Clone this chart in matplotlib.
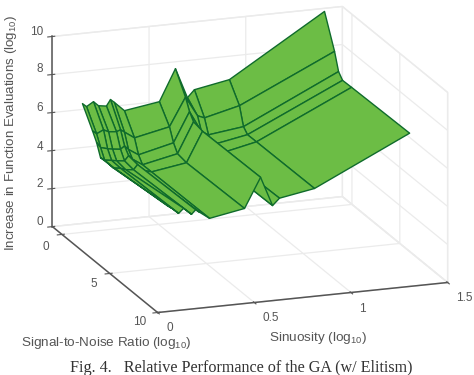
import numpy as np
import matplotlib
matplotlib.use('Agg')
import matplotlib.pyplot as plt

plt.rcParams['font.family'] = ['Liberation Sans', 'DejaVu Sans']
plt.rcParams['mathtext.fontset'] = 'custom'
plt.rcParams['mathtext.rm'] = 'Liberation Sans'
plt.rcParams['mathtext.default'] = 'rm'
plt.rcParams['grid.color'] = '#ebebeb'
plt.rcParams['grid.linewidth'] = 0.9

sinuosity = [0.106, 0.127, 0.163, 0.189, 0.230, 0.251, 0.271, 0.323, 0.504, 0.587, 0.649, 0.685, 0.866, 1.358]
snr = [0, 1.05, 1.47, 1.89, 2.83, 8.9]

z_snr0 = [6.77, 6.59, 6.81, 6.57, 6.51, 6.83, 6.66, 6.17, 6.45, 8.10, 6.51, 6.89, 7.23, 10.3]
z_snr1 = [5.77, 5.59, 5.76, 5.63, 5.59, 5.67, 5.53, 5.17, 5.56, 7.03, 5.99, 5.84, 6.29, 8.63]
z_snr2 = [5.34, 5.04, 4.94, 4.89, 4.84, 4.99, 4.79, 4.45, 4.89, 6.44, 5.32, 5.12, 5.36, 7.74]
z_snr3 = [4.70, 4.55, 4.50, 4.45, 4.40, 4.65, 4.45, 4.10, 4.49, 6.08, 4.65, 4.77, 5.11, 7.45]
z_snr4 = [4.72, 4.52, 4.47, 4.37, 4.32, 4.57, 4.27, 4.11, 4.40, 5.97, 4.40, 4.72, 5.12, 7.47]
z_snr5 = [5.04, 4.90, 4.59, 4.83, 4.47, 4.69, 4.54, 4.16, 4.49, 6.04, 4.49, 4.84, 5.16, 7.55]

x_ticks = [0, 0.5, 1, 1.5]
y_ticks = [0, 5, 10]
z_ticks = [0, 2, 4, 6, 8, 10]
x_labels = ['0', '0.5', '1', '1.5']
y_labels = ['0', '5', '10']
z_labels = ['0', '2', '4', '6', '8', '10']

text_col = '#555555'
W, H = 474, 375

fig = plt.figure(figsize=(W / 100, H / 100), dpi=100)
ax = fig.add_subplot(111, projection='3d', proj_type='ortho')

# square axes, sized so the box lands where it is in the picture
S = 468.2
ax.set_position([(250 - 0.5135 * S) / W, (215.5 - 0.5135 * S) / H, S / W, S / H])
ax.patch.set_alpha(0)
ax.set_box_aspect((307.8, 313.6, 198.7))
ax.view_init(elev=16.9, azim=-109.6)

X, Y = np.meshgrid(sinuosity, snr)
Z = np.array([z_snr0, z_snr1, z_snr2, z_snr3, z_snr4, z_snr5])
ax.plot_surface(X, Y, Z, rstride=1, cstride=1, color='#6cbd45', edgecolor='#0f6b2c',
                linewidth=1.0, shade=False, antialiased=True)

ax.set_xlim(0, 1.5, view_margin=0)
ax.set_ylim(10, -1, view_margin=0)
ax.set_zlim(0, 10, view_margin=0)
ax.set_xticks(x_ticks)
ax.set_yticks(y_ticks)
ax.set_zticks(z_ticks)
# labels go on by hand below, mplot3d won't put them where matlab has them
ax.set_xticklabels([''] * len(x_ticks))
ax.set_yticklabels([''] * len(y_ticks))
ax.set_zticklabels([''] * len(z_ticks))

for axis in (ax.xaxis, ax.yaxis, ax.zaxis):
    axis.set_pane_color((1, 1, 1, 1))
    axis.pane.set_edgecolor('#ebebeb')
    axis.line.set_color('#555555')
    axis.line.set_linewidth(1.1)
ax.tick_params(axis='both', colors=text_col)
ax.tick_params(axis='z', colors=text_col)


def put(px, py, s, **kw):
    fig.text(px / W, 1 - py / H, s, color=text_col, fontsize=8.5, ha='center', va='center', **kw)


for lab, pos in zip(x_labels, [(170, 328), (271, 318), (362, 309), (464, 298)]):
    put(pos[0], pos[1], lab)
for lab, pos in zip(y_labels, [(46, 247), (94, 284), (140, 322)]):
    put(pos[0], pos[1], lab)
for lab, pos in zip(z_labels, [(40, 222), (40, 184), (40, 147), (40, 108), (40, 69), (37, 32)]):
    put(pos[0], pos[1], lab)

fig.text(21 / W, 1 - 343 / H, 'Signal-to-Noise Ratio (log$_{10}$)', fontsize=9.7, color=text_col, va='center')
fig.text(269 / W, 1 - 338 / H, 'Sinuosity (log$_{10}$)', fontsize=9.7, color=text_col, va='center')
fig.text(11 / W, 1 - 133 / H, 'Increase in Function Evaluations (log$_{10}$)', fontsize=9.6, color=text_col,
         rotation=90, ha='center', va='center')
fig.text(241 / W, 1 - 368 / H, 'Fig. 4.   Relative Performance of the GA (w/ Elitism)', fontsize=11.6,
         family='Liberation Serif', color='#333333', ha='center', va='center')

fig.savefig('out.png', dpi=100)
